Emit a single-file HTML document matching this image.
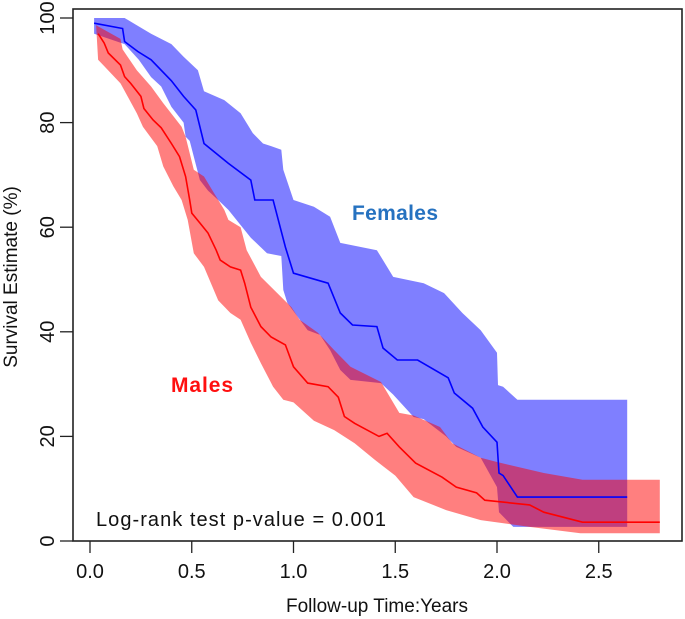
<!DOCTYPE html>
<html><head><meta charset="utf-8"><style>
html,body{margin:0;padding:0;background:#fff;}
svg{display:block;font-family:"Liberation Sans",sans-serif;}
</style></head><body>
<svg id="chart" width="685" height="619" viewBox="0 0 685 619"></svg>
<script>
// ---- data ----
const xTicks = [0.0, 0.5, 1.0, 1.5, 2.0, 2.5];
const xTickLabels = ["0.0", "0.5", "1.0", "1.5", "2.0", "2.5"];
const yTicks = [0, 20, 40, 60, 80, 100];
const yTickLabels = ["0", "20", "40", "60", "80", "100"];

const femaleTime = [0.02,0.16,0.17,0.235,0.30,0.40,0.46,0.52,0.56,0.68,0.79,0.81,0.90,0.96,1.0,1.17,1.23,1.29,1.41,1.44,1.51,1.61,1.76,1.79,1.88,1.93,2.0,2.01,2.03,2.10,2.64];
const femaleSurv = [99,98,95.5,93.6,92,88,85,82.4,76,72.2,69,65.2,65.2,56.2,51.2,49.3,43.6,41.3,41,36.9,34.6,34.6,31.2,28.3,25.4,21.8,18.9,13,12.5,8.4,8.4];
const femaleUpperT = [0.02,0.17,0.23,0.30,0.40,0.46,0.53,0.56,0.66,0.74,0.80,0.85,0.89,0.94,0.95,1.0,1.1,1.18,1.23,1.41,1.49,1.64,1.74,1.83,1.92,2.0,2.005,2.03,2.10,2.64];
const femaleUpper = [100,100,98.6,97,95,92.6,90,86,84.3,81.8,78,76,75.5,74.8,71,65.2,63.9,62,57,55.6,50.5,49.3,47.4,43.6,40.3,36,29.8,29.5,27,27];
const femaleLowerT = [0.02,0.17,0.24,0.30,0.35,0.40,0.46,0.47,0.49,0.54,0.58,0.63,0.68,0.79,0.87,0.94,0.95,0.97,1.07,1.13,1.18,1.23,1.28,1.43,1.49,1.56,1.59,1.64,1.75,1.80,1.92,2.0,2.01,2.08,2.64];
const femaleLower = [97,95,92,88.7,86.9,83,80,77.3,76.5,69,67,65.2,63.3,58,55,54.5,48,45.5,40.3,39.4,36.5,32.7,30.8,30.2,28,25,23.7,23.3,20,18,15.9,10.3,5.5,2.7,2.7];

const maleTime = [0.04,0.05,0.07,0.09,0.15,0.17,0.20,0.25,0.265,0.31,0.35,0.40,0.44,0.47,0.49,0.50,0.54,0.58,0.62,0.64,0.69,0.74,0.76,0.79,0.84,0.89,0.96,1.0,1.07,1.17,1.22,1.25,1.30,1.42,1.46,1.52,1.60,1.73,1.80,1.90,1.94,2.16,2.23,2.42,2.80];
const maleSurv = [97,96.4,95.2,93.3,91,88.8,87.5,85,82.7,80.5,79,76,73.5,69.7,65.2,62.7,60.8,58.9,55.6,53.7,52.4,51.8,49.3,44.7,41,39,37.5,33.3,30.2,29.5,27.5,23.8,22.5,20,20.6,18,14.9,12.2,10.3,9.2,7.8,6.9,5.5,3.6,3.6];
const maleUpperT = [0.03,0.15,0.16,0.23,0.30,0.36,0.45,0.47,0.51,0.56,0.61,0.66,0.68,0.74,0.77,0.84,0.99,1.03,1.12,1.20,1.28,1.43,1.52,1.59,1.72,1.78,1.92,2.0,2.23,2.42,2.80];
const maleUpper = [98.6,96,94,90,86.9,83.7,79.2,77.3,71,69.7,66.5,63.3,61.4,60,55.6,50.5,44.7,42.3,39.8,36.5,33.3,30.4,24.5,24,21.8,18.7,15.9,15.1,13,11.7,11.7];
const maleLowerT = [0.04,0.07,0.15,0.23,0.26,0.33,0.36,0.41,0.45,0.48,0.51,0.56,0.63,0.69,0.74,0.79,0.84,0.90,0.95,1.0,1.1,1.2,1.3,1.4,1.5,1.59,1.75,1.92,2.16,2.41,2.80];
const maleLower = [92,90.8,87.5,81.8,79.2,75.5,71.6,67.8,65.2,61.4,55,52.4,46,43.6,42.3,37.9,34,29.5,27,26.5,23,21.2,18.7,15.5,12.5,8.4,5.9,4,2.7,1.5,1.5];

// ---- scales ----
const X0 = 90, XPER = 203.5, Y0 = 541, YPER = 5.23;
function xs(t){ return X0 + t*XPER; }
function ys(v){ return Y0 - v*YPER; }

const svg = document.getElementById('chart');
const NS = 'http://www.w3.org/2000/svg';
function mk(tag, attrs, parent){
  const e = document.createElementNS(NS, tag);
  for (const k in attrs) e.setAttribute(k, attrs[k]);
  (parent||svg).appendChild(e);
  return e;
}
function bandPts(ut, uv, lt, lv){
  const p = [];
  for (let i=0;i<ut.length;i++) p.push(xs(ut[i]).toFixed(1)+','+ys(uv[i]).toFixed(1));
  for (let i=lt.length-1;i>=0;i--) p.push(xs(lt[i]).toFixed(1)+','+ys(lv[i]).toFixed(1));
  return p.join(' ');
}
function linePts(t, v){
  const p = [];
  for (let i=0;i<t.length;i++) p.push(xs(t[i]).toFixed(1)+','+ys(v[i]).toFixed(1));
  return p.join(' ');
}

// bands
const fb = mk('polygon', {points: bandPts(femaleUpperT, femaleUpper, femaleLowerT, femaleLower), fill:'#0000ff', 'fill-opacity':'0.5'});


const mb = mk('polygon', {points: bandPts(maleUpperT, maleUpper, maleLowerT, maleLower), fill:'#ff0000', 'fill-opacity':'0.5'});



// lines
const fl = mk('polyline', {points: linePts(femaleTime, femaleSurv), fill:'none', stroke:'#0000ff', 'stroke-width':'1.6'});


const ml = mk('polyline', {points: linePts(maleTime, maleSurv), fill:'none', stroke:'#ff0000', 'stroke-width':'1.6'});



// box
const box = mk('rect', {x:73, y:9, width:609, height:532, fill:'none', stroke:'#222', 'stroke-width':'1.6'});



// x axis
xTicks.forEach((t,i)=>{
  const tk = mk('line', {x1:xs(t), x2:xs(t), y1:541, y2:553, stroke:'#222', 'stroke-width':'1.3'});
  
  
  const lb = mk('text', {x:xs(t), y:578, 'text-anchor':'middle', 'font-size':'20', fill:'#111'});
  lb.textContent = xTickLabels[i];
  
  
});
// y axis
yTicks.forEach((v,i)=>{
  const tk = mk('line', {x1:60, x2:73, y1:ys(v), y2:ys(v), stroke:'#222', 'stroke-width':'1.3'});
  
  
  const lb = mk('text', {x:0, y:0, 'text-anchor':'middle', 'font-size':'20', fill:'#111', transform:'translate(54,'+ys(v)+') rotate(-90)'});
  lb.textContent = yTickLabels[i];
  
  
});

function addText(txt, attrs, name){
  const e = document.createElementNS(NS,'text');
  for (const k in attrs) e.setAttribute(k, attrs[k]);
  e.textContent = txt;
  
  
  svg.appendChild(e);
}
addText('Follow-up Time:Years', {x:377, y:612, 'text-anchor':'middle', 'font-size':'19', fill:'#111'}, 'x-axis-title');
addText('Survival Estimate (%)', {x:0, y:0, 'text-anchor':'middle', 'font-size':'19', fill:'#111', transform:'translate(17,277) rotate(-90)'}, 'y-axis-title');
addText('Females', {x:352, y:220, 'font-size':'21', 'font-weight':'bold', fill:'#2672c0', textLength:'86'}, 'females-label');
addText('Males', {x:171, y:392, 'font-size':'21', 'font-weight':'bold', fill:'#ff1010', textLength:'62'}, 'males-label');
addText('Log-rank test p-value = 0.001', {x:96, y:526, 'font-size':'20', fill:'#111', textLength:'290'}, 'log-rank-annotation');
</script>
</body></html>
